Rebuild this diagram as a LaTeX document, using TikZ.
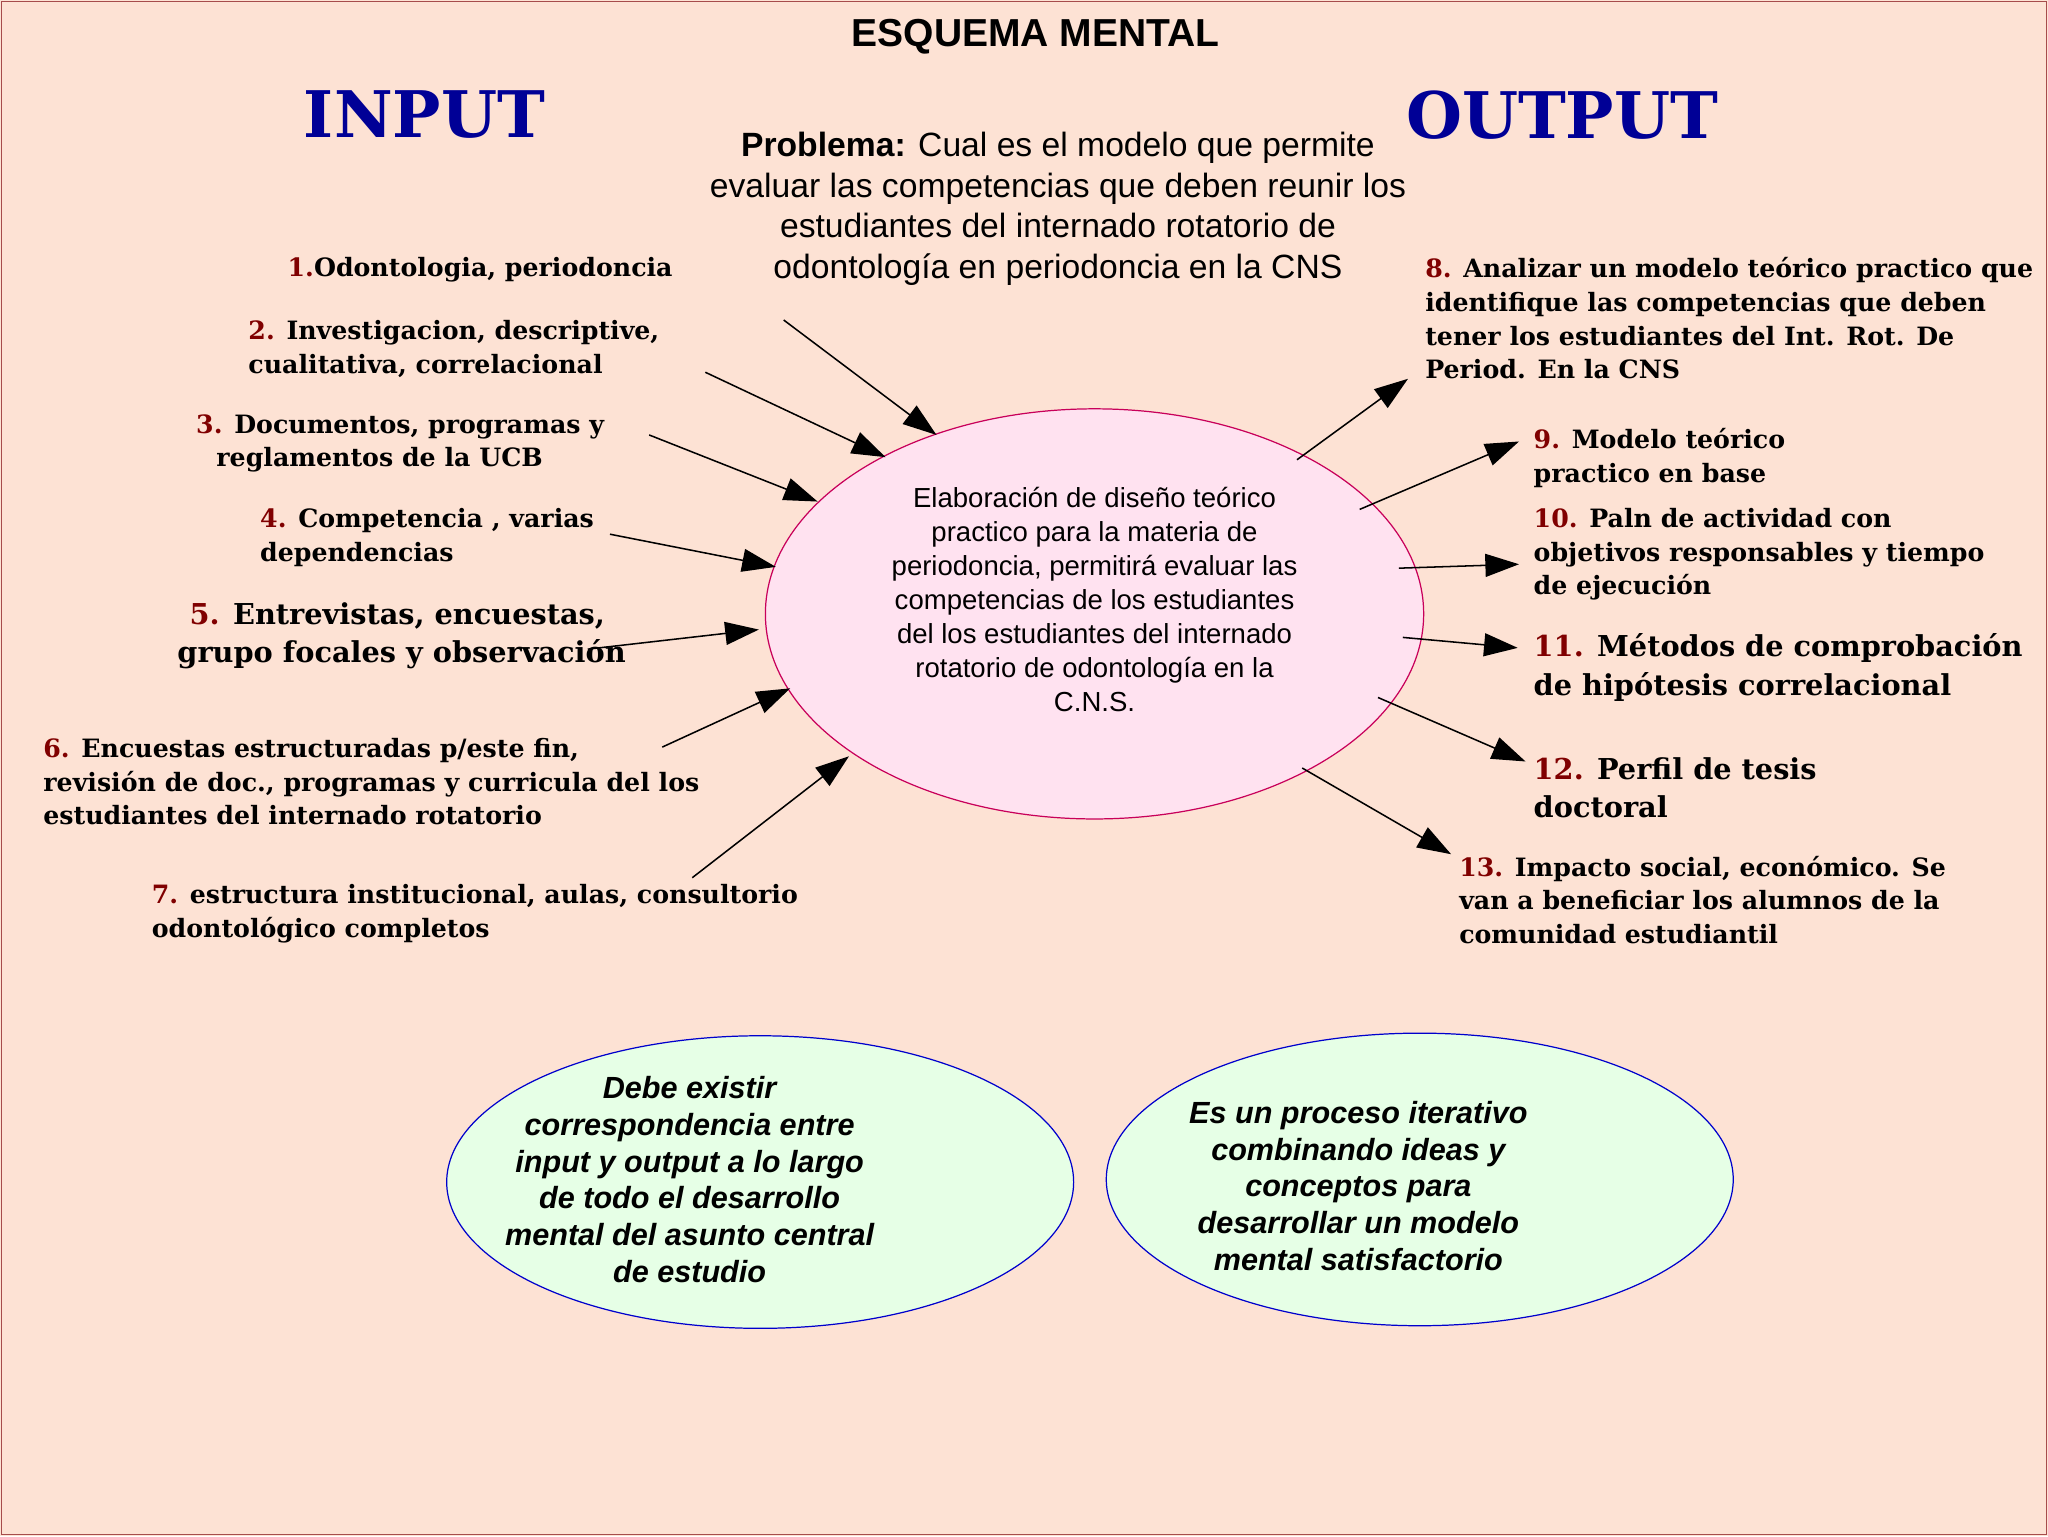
\documentclass[tikz,border=0pt]{standalone}
\usepackage{fontspec}
\setmainfont{DejaVu Serif}
\setsansfont{Liberation Sans}
\usetikzlibrary{arrows.meta}
\definecolor{bg}{RGB}{253,226,212}
\definecolor{num}{RGB}{128,0,0}
\definecolor{ttl}{RGB}{0,0,150}
\definecolor{pinkf}{RGB}{255,226,240}
\definecolor{pinkd}{RGB}{200,0,90}
\definecolor{greenf}{RGB}{230,255,230}
\tikzset{
 item/.style={anchor=north west,align=left,inner sep=0pt,font=\bfseries\fontsize{16.5}{22}\selectfont},
 bigitem/.style={anchor=north west,align=left,inner sep=0pt,font=\bfseries\fontsize{18.8}{25}\selectfont},
 arr/.style={line width=1pt,-{Triangle[length=22pt,width=15pt]}},
 bub/.style={font=\sffamily\bfseries\itshape\fontsize{20}{24}\selectfont,align=center}
}
\newcommand{\nm}[1]{\textcolor{num}{#1}}
\begin{document}
\begin{tikzpicture}[x=0.3mm,y=-0.3mm]
\useasboundingbox (0,0) rectangle (1568,1176);
\fill[bg] (0,0) rectangle (1568,1176);
\draw[num!70,line width=0.8pt] (1,1) rectangle (1567,1175);
\node (title) at (793,28) {\sffamily\bfseries\fontsize{25.5}{28}\selectfont ESQUEMA MENTAL};
\node[text=ttl] (in) at (325,88) {\bfseries\fontsize{42}{48}\selectfont INPUT};
\node[text=ttl] (out) at (1196,88) {\bfseries\fontsize{42}{48}\selectfont OUTPUT};
\node[align=center,font=\sffamily\fontsize{22}{26.5}\selectfont] (prob) at (810,160)
 {\textbf{Problema:} Cual es el modelo que permite\\evaluar las competencias que deben reunir los\\estudiantes del internado rotatorio de\\odontología en periodoncia en la CNS};
\draw[pinkd,fill=pinkf,line width=0.8pt] (838,470) ellipse [x radius=252,y radius=157];
\node[align=center,font=\sffamily\fontsize{18}{22.3}\selectfont] (c) at (838,459)
 {Elaboración de diseño teórico\\practico para la materia de\\periodoncia, permitirá evaluar las\\competencias de los estudiantes\\del los estudiantes del internado\\rotatorio de odontología en la\\C.N.S.};
\draw[blue!80!black,fill=greenf,line width=0.8pt] (582,905) ellipse [x radius=240,y radius=112];
\draw[blue!80!black,fill=greenf,line width=0.8pt] (1087,903) ellipse [x radius=240,y radius=112];
\node[bub] (b1) at (528,903) {Debe existir\\correspondencia entre\\input y output a lo largo\\de todo el desarrollo\\mental del asunto central\\de estudio};
\node[bub] (b2) at (1040,908) {Es un proceso iterativo\\combinando ideas y\\conceptos para\\desarrollar un modelo\\mental satisfactorio};
% items
\node[item] (i1) at (220,197) {\nm{1.}Odontologia, periodoncia};
\node[item] (i2) at (190,245) {\nm{2.} Investigacion, descriptive,\\cualitativa, correlacional};
\node[item] (i3) at (150,317) {\nm{3.} Documentos, programas y\\\hspace*{33\pgflinewidth}reglamentos de la UCB};
\node[item] (i4) at (199,389) {\nm{4.} Competencia , varias\\dependencias};
\node[bigitem] (i5) at (145,461) {\nm{5.} Entrevistas, encuestas,\\\hspace*{-8pt}grupo focales y observación};
\node[item] (i6) at (33,565) {\nm{6.} Encuestas estructuradas p/este fin,\\revisión de doc., programas y curricula del los\\estudiantes del internado rotatorio};
\node[item] (i7) at (116,677) {\nm{7.} estructura institucional, aulas, consultorio\\odontológico completos};
\node[item] (i8) at (1091,197) {\nm{8.} Analizar un modelo teórico practico que\\identifique las competencias que deben\\tener los estudiantes del Int. Rot. De\\Period. En la CNS};
\node[item] (i9) at (1174,328) {\nm{9.} Modelo teórico\\practico en base};
\node[item] (i10) at (1174,389) {\nm{10.} Paln de actividad con\\objetivos responsables y tiempo\\de ejecución};
\node[bigitem] (i11) at (1174,485) {\nm{11.} Métodos de comprobación\\de hipótesis correlacional};
\node[bigitem] (i12) at (1174,580) {\nm{12.} Perfil de tesis\\doctoral};
\node[item] (i13) at (1117,655) {\nm{13.} Impacto social, económico. Se\\van a beneficiar los alumnos de la\\comunidad estudiantil};
% arrows
\foreach \n/\sx/\sy/\ex/\ey in {1/600/245/717/333,2/540/285/678/350,3/497/333/626/384,4/467/409/594/434,5/450/497/581/482,6/507/572/605/527,7/530/672/650/579,8/993/352/1078/290,9/1041/390/1163/338,10/1071/435/1163/432,11/1074/488/1162/496,12/1055/534/1168/583,13/997/588/1111/654}{
 \coordinate (s\n) at (\sx,\sy);
 \coordinate (e\n) at (\ex,\ey);
 \draw[arr] (s\n) -- (e\n);
}
\end{tikzpicture}
\end{document}
